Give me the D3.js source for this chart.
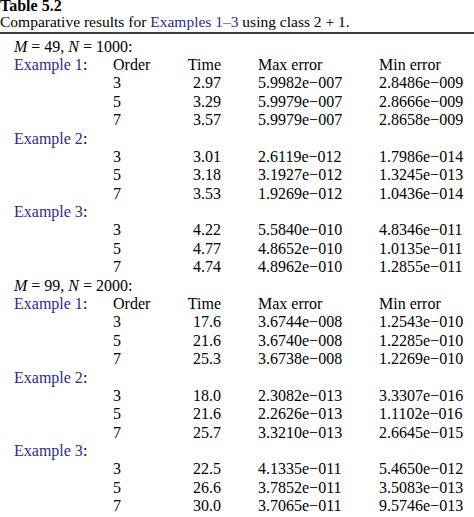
<!DOCTYPE html>
<html><head><meta charset="utf-8">
<script src="https://cdn.jsdelivr.net/npm/d3@7"></script>
<style>body{margin:0;background:#fff}</style></head>
<body><svg id="c" width="474" height="517"></svg>
<script>
const groups = ["M = 49, N = 1000:", "M = 99, N = 2000:"];
const examples = ["Example 1", "Example 2", "Example 3"];
const orders = [3, 5, 7];
const headers = ["Order", "Time", "Max error", "Min error"];
const times = [["2.97","3.29","3.57"],["3.01","3.18","3.53"],["4.22","4.77","4.74"],
               ["17.6","21.6","25.3"],["18.0","21.6","25.7"],["22.5","26.6","30.0"]];
const maxErr = [["5.9982e−007","5.9979e−007","5.9979e−007"],["2.6119e−012","3.1927e−012","1.9269e−012"],["5.5840e−010","4.8652e−010","4.8962e−010"],
                ["3.6744e−008","3.6740e−008","3.6738e−008"],["2.3082e−013","2.2626e−013","3.3210e−013"],["4.1335e−011","3.7852e−011","3.7065e−011"]];
const minErr = [["2.8486e−009","2.8666e−009","2.8658e−009"],["1.7986e−014","1.3245e−013","1.0436e−014"],["4.8346e−011","1.0135e−011","1.2855e−011"],
                ["1.2543e−010","1.2285e−010","1.2269e−010"],["3.3307e−016","1.1102e−016","2.6645e−015"],["5.4650e−012","3.5083e−013","9.5746e−013"]];

const svg = d3.select("#c");
const font = "Liberation Serif";
const blue = "#2b2b8c";
const y = d3.scaleLinear().domain([0, 25]).range([48, 507.5]);
const col = {label:14, order:113, time:221, max:258, min:379};

svg.append("text").attr("x",0).attr("y",11).attr("font-family",font).attr("font-weight","bold").attr("font-size",16).text("Table 5.2");
const cap = svg.append("text").attr("x",0).attr("y",27).attr("font-family",font).attr("font-size",15.5);
cap.append("tspan").text("Comparative results for ");
cap.append("tspan").attr("fill",blue).text("Examples 1–3");
cap.append("tspan").text(" using class 2 + 1.");
svg.append("line").attr("x1",0).attr("x2",474).attr("y1",33).attr("y2",33).attr("stroke","#000").attr("stroke-width",1.5);

const rows = [];
let r = 0;
groups.forEach((g, gi) => {
  rows.push({r: r++, type:"group", text:g});
  examples.forEach((e, ei) => {
    rows.push({r: r++, type:"ex", text:e, header: ei === 0});
    const k = gi*3 + ei;
    orders.forEach((o, oi) => rows.push({r: r++, type:"data", o, t: times[k][oi], mx: maxErr[k][oi], mn: minErr[k][oi]}));
  });
});

const g = svg.append("g").attr("font-family",font).attr("font-size",16).attr("dominant-baseline","middle");
rows.forEach(d => {
  const yy = y(d.r);
  if (d.type === "group") {
    const m = d.text.match(/M = (\d+), N = (\d+):/);
    const t = g.append("text").attr("x",col.label).attr("y",yy);
    t.append("tspan").attr("font-style","italic").text("M");
    t.append("tspan").text(" = " + m[1] + ", ");
    t.append("tspan").attr("font-style","italic").text("N");
    t.append("tspan").text(" = " + m[2] + ":");
  } else if (d.type === "ex") {
    const t = g.append("text").attr("x",col.label).attr("y",yy);
    t.append("tspan").attr("fill",blue).text(d.text);
    t.append("tspan").text(":");
    if (d.header) {
      g.append("text").attr("x",col.order).attr("y",yy).text(headers[0]);
      g.append("text").attr("x",col.time).attr("y",yy).attr("text-anchor","end").text(headers[1]);
      g.append("text").attr("x",col.max).attr("y",yy).text(headers[2]);
      g.append("text").attr("x",col.min).attr("y",yy).text(headers[3]);
    }
  } else {
    g.append("text").attr("x",col.order).attr("y",yy).text(d.o);
    g.append("text").attr("x",col.time).attr("y",yy).attr("text-anchor","end").text(d.t);
    g.append("text").attr("x",col.max).attr("y",yy).text(d.mx);
    g.append("text").attr("x",col.min).attr("y",yy).text(d.mn);
  }
});
</script></body></html>
